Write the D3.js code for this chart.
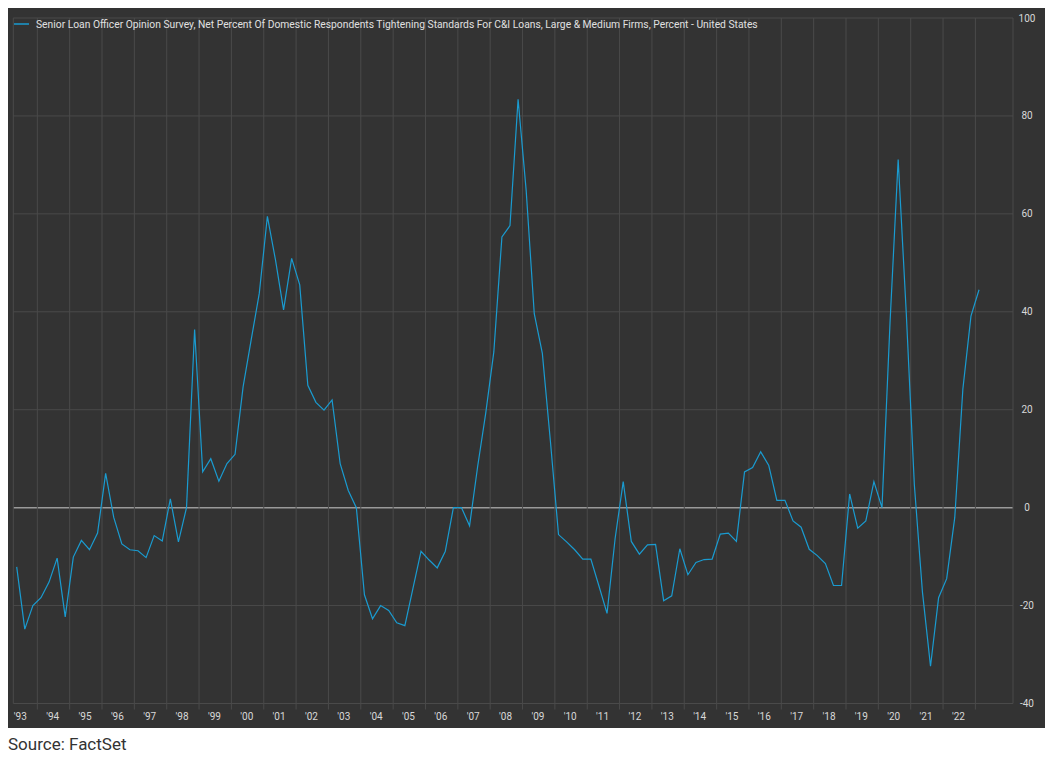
<!DOCTYPE html>
<html><head><meta charset="utf-8">
<script src="https://cdn.jsdelivr.net/npm/d3@7"></script>
<style>body{margin:0;background:#fff;font-family:Roboto,"Liberation Sans",Arial,sans-serif}</style>
</head><body><svg id="c" width="1053" height="761"></svg>
<script>
const yearLabels=["'93","'94","'95","'96","'97","'98","'99","'00","'01","'02","'03","'04","'05","'06","'07","'08","'09","'10","'11","'12","'13","'14","'15","'16","'17","'18","'19","'20","'21","'22"];
const yTicks=[-40,-20,0,20,40,60,80,100];
const values=[-12.1,-24.8,-20,-18.4,-15.2,-10.3,-22.3,-10.1,-6.7,-8.6,-5.2,7,-2,-7.4,-8.6,-8.8,-10.2,-5.7,-6.8,1.8,-7,0,
36.4,7.3,10,5.4,9,10.9,24.7,34.3,43.8,59.5,50.6,40.4,50.9,45.5,25,21.5,19.9,22,9,3.5,0,
-17.8,-22.7,-20,-21,-23.5,-24.1,-16.5,-8.9,-10.7,-12.3,-8.9,0,0,-3.7,8.4,19.3,31.8,55.3,57.6,83.4,64.8,39.6,31.5,13.5,-5.5,-7,-8.6,-10.5,-10.5,-16,-21.6,-6.3,5.3,-6.9,-9.5,-7.6,-7.5,-19,-18,-8.4,-13.7,-11.2,-10.6,-10.5,-5.4,-5.2,-6.9,7.3,8.2,11.4,8.6,1.5,1.5,-2.7,-4,-8.5,-9.8,-11.4,-15.9,-15.9,2.8,-4.2,-2.7,5.3,0,38,71.1,39.8,4.7,-17.2,-32.4,-18.4,-14.5,-2,24.2,39.1,44.5];
const seriesName="Senior Loan Officer Opinion Survey, Net Percent Of Domestic Respondents Tightening Standards For C&I Loans, Large & Medium Firms, Percent - United States";

const svg=d3.select("#c");
const L=13.3,R=1013,T=18,B=703.5;
svg.append("rect").attr("x",8).attr("y",8).attr("width",1037).attr("height",720).attr("fill","#333333");
const x=d3.scaleLinear().domain([-0.42,123.2]).range([L,R]);
const y=d3.scaleLinear().domain([-40,100]).range([B,T]);
const g=svg.append("g");
yTicks.forEach(t=>{
  g.append("line").attr("x1",L).attr("x2",R).attr("y1",y(t)).attr("y2",y(t))
   .attr("stroke",t===0?"#9a9a9a":"#4a4a4a").attr("stroke-width",t===0?1.5:1);
  g.append("text").attr("x",1027).attr("y",y(t)+3.5).attr("fill","#d8d8d8").attr("font-size",10).attr("text-anchor","middle").text(t);
});
yearLabels.forEach((lab,k)=>{
  const gx=x(2.55+4*k);
  g.append("line").attr("x1",gx).attr("x2",gx).attr("y1",T).attr("y2",B+6).attr("stroke","#4a4a4a");
  g.append("text").attr("x",x(0.45+4*k)).attr("y",720).attr("fill","#d8d8d8").attr("font-size",10).attr("text-anchor","middle").text(lab);
});
g.append("line").attr("x1",L).attr("x2",L).attr("y1",T).attr("y2",B).attr("stroke","#4a4a4a");
g.append("line").attr("x1",R).attr("x2",R).attr("y1",T).attr("y2",B).attr("stroke","#4a4a4a");
const line=d3.line().x((d,i)=>x(i)).y(d=>y(d));
g.append("path").datum(values).attr("d",line).attr("fill","none").attr("stroke","#1a9bd0").attr("stroke-width",1.2);
g.append("line").attr("x1",14).attr("x2",29).attr("y1",24).attr("y2",24).attr("stroke","#1a9bd0").attr("stroke-width",1.5);
g.append("text").attr("x",36).attr("y",27.5).attr("fill","#e0e0e0").attr("font-size",10.3).text(seriesName);
svg.append("text").attr("x",8).attr("y",750).attr("fill","#333").attr("font-size",17).text("Source: FactSet");
</script></body></html>
